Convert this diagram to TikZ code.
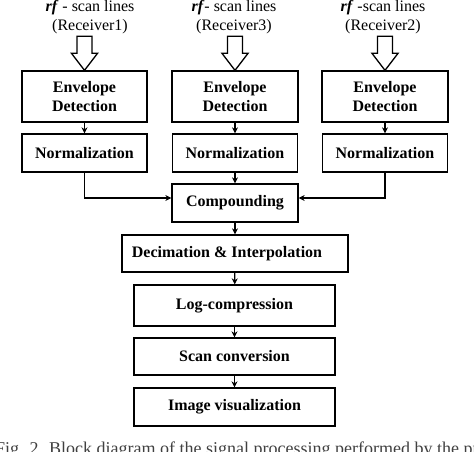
\documentclass[tikz,border=0pt]{standalone}
\usepackage{fontspec}
\setmainfont{Liberation Serif}
\usetikzlibrary{arrows.meta}
\begin{document}
\begin{tikzpicture}[x=1pt, y=-1pt,
    block/.style={draw, line width=1.3pt, inner sep=0pt, align=center,
      font=\fontsize{16}{19}\selectfont\bfseries},
    connection/.style={-{Stealth[length=6pt, width=6pt]}, line width=1.3pt},
    hollow/.style={draw, line width=1.3pt, fill=white},
    source/.style={align=center, inner sep=0pt, anchor=north,
      font=\fontsize{16}{19}\selectfont}
  ]
    \useasboundingbox (0,0) rectangle (474,452);

    % Input labels
    \node[source] (lab1) at (90,0.5) {\textbf{\textit{rf}} - scan lines\\(Receiver1)};
    \node[source] (lab3) at (234,0.5) {\textbf{\textit{rf}}- scan lines\\(Receiver3)};
    \node[source] (lab2) at (383,0.5) {\textbf{\textit{rf}} -scan lines\\(Receiver2)};

    % Envelope detection
    \node[block, minimum width=125, minimum height=51] (env1) at (84.5,96.5) {Envelope\\Detection};
    \node[block, minimum width=126, minimum height=51] (env3) at (235,96.5) {Envelope\\Detection};
    \node[block, minimum width=126, minimum height=51] (env2) at (385,96.5) {Envelope\\Detection};

    % Normalization
    \foreach \i in {1,2,3}
      \node[block, minimum width=125, minimum height=38] (norm\i) at (env\i |- 0,153) {Normalization};

    % Processing chain
    \node[block, minimum width=126, minimum height=38] (comp) at (235,203) {Compounding};
    \node[block, minimum width=226, minimum height=37] (deci) at (235,253.5) {Decimation \& Interpolation\hspace*{16pt}};
    \node[block, minimum width=201, minimum height=41] (logc) at (234.5,305.5) {Log-compression};
    \node[block, minimum width=201, minimum height=37] (scan) at (234.5,356.5) {Scan conversion};
    \node[block, minimum width=201, minimum height=38] (imgv) at (234.5,407) {Image visualization};

    % Hollow input arrows
    \foreach \b in {env1,env3,env2}
      \draw[hollow] (\b.north) -- ++(-13,-17) -- ++(5.5,0) -- ++(0,-17) -- ++(15,0)
        -- ++(0,17) -- ++(5.5,0) -- cycle;

    % Connections
    \foreach \i in {1,2,3}
      \draw[connection] (env\i) -- (norm\i);
    \draw[connection] (norm3) -- (comp);
    \draw[connection] (norm1.south) |- ([yshift=5pt]comp.west);
    \draw[connection] (norm2.south) |- ([yshift=5pt]comp.east);
    \draw[connection] (comp) -- (deci);
    \draw[connection] (deci) -- (logc);
    \draw[connection] (logc) -- (scan);
    \draw[connection] (scan) -- (imgv);

    % Caption
    \node[anchor=base west, inner sep=0pt, text=black!75, font=\fontsize{18}{21}\selectfont]
      (caption) at (-5,454) {Fig. 2. Block diagram of the signal processing performed by the proposed system.};

  \end{tikzpicture}
\end{document}
